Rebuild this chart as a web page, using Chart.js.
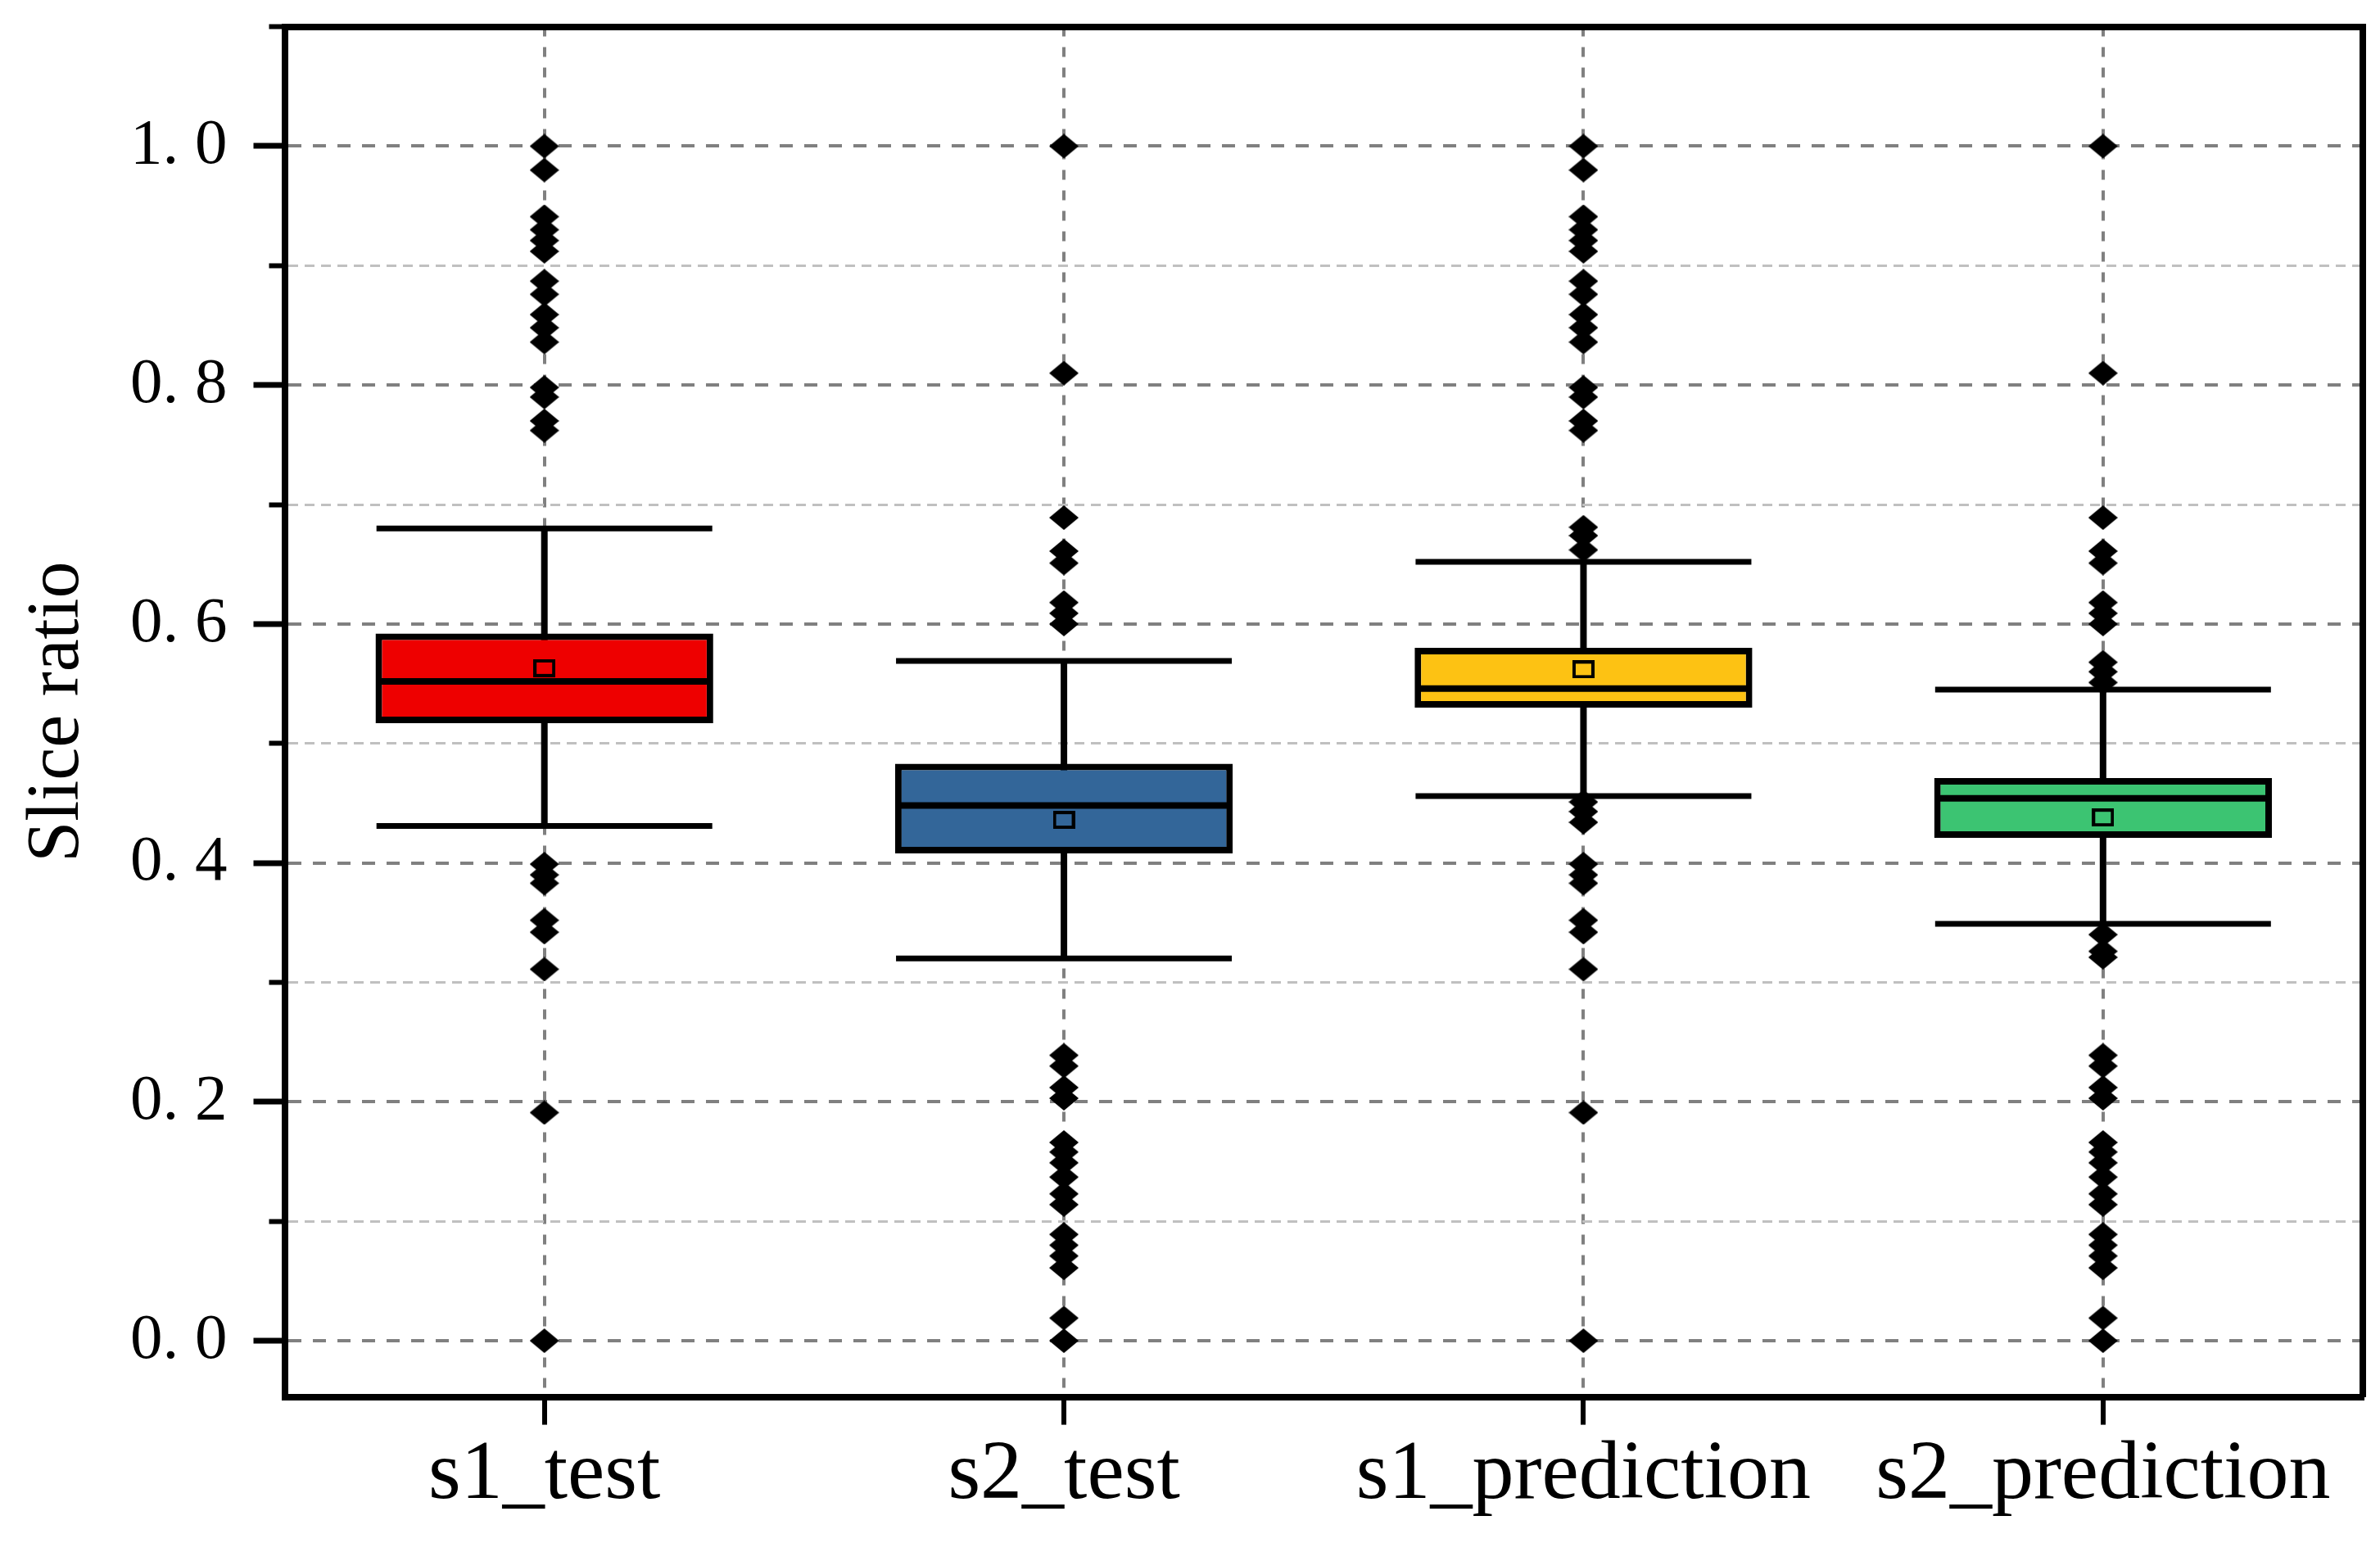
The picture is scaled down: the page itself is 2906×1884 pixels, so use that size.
<!DOCTYPE html>
<html>
<head>
<meta charset="utf-8">
<title>Slice ratio box plot</title>
<script src="https://cdn.jsdelivr.net/npm/chart.js@4.4.1/dist/chart.umd.min.js"></script>
<style>
  html, body { margin: 0; padding: 0; background: #fff; }
</style>
</head>
<body>
<canvas id="chart" width="2906" height="1884"></canvas>
<script>
// Box plot of slice ratios, drawn with plain Chart.js (bars + line datasets)

const categories = ['s1_test', 's2_test', 's1_prediction', 's2_prediction'];

// box statistics, one value per category
const q1 = [0.517, 0.408, 0.530, 0.421];
const q3 = [0.592, 0.483, 0.580, 0.471];
const medians = [0.552, 0.448, 0.546, 0.454];
const means = [0.563, 0.436, 0.562, 0.438];
const whiskerLow = [0.431, 0.320, 0.456, 0.349];
const whiskerHigh = [0.680, 0.569, 0.652, 0.545];

// fliers, one list per category
const s1TestOutliers = [1.0, 0.980, 0.941, 0.930, 0.921, 0.912, 0.887, 0.876, 0.859, 0.848, 0.836,
  0.798, 0.790, 0.770, 0.762, 0.399, 0.390, 0.383, 0.352, 0.342, 0.311, 0.191, 0.0];
const s2TestOutliers = [1.0, 0.810, 0.689, 0.661, 0.651, 0.618, 0.609, 0.600,
  0.239, 0.230, 0.212, 0.203, 0.166, 0.158, 0.149, 0.137, 0.123, 0.114,
  0.089, 0.080, 0.071, 0.061, 0.019, 0.0];
const s1PredOutliers = [1.0, 0.980, 0.941, 0.930, 0.921, 0.912, 0.887, 0.876, 0.859, 0.848, 0.836,
  0.798, 0.790, 0.770, 0.762, 0.681, 0.674, 0.662,
  0.451, 0.443, 0.434, 0.399, 0.390, 0.383, 0.352, 0.342, 0.311, 0.191, 0.0];
const s2PredOutliers = [1.0, 0.810, 0.689, 0.661, 0.651, 0.618, 0.609, 0.600, 0.568, 0.560, 0.551,
  0.340, 0.326, 0.321, 0.239, 0.230, 0.212, 0.203, 0.166, 0.158, 0.149, 0.137, 0.123, 0.114,
  0.089, 0.080, 0.071, 0.061, 0.019, 0.0];
const outliers = [s1TestOutliers, s2TestOutliers, s1PredOutliers, s2PredOutliers];

const yTickValues = [0, 0.2, 0.4, 0.6, 0.8, 1.0];

const boxColors = ['#ee0000', '#336699', '#fdc213', '#3cc472'];
const serif = '"Liberation Serif", "Times New Roman", serif';

// small canvases used as point styles
function marker(w, h, draw) {
    const c = document.createElement('canvas');
    c.width = w;
    c.height = h;
    draw(c.getContext('2d'), w, h);
    return c;
}
const diamond = marker(36, 30, (g, w, h) => {
    g.fillStyle = '#000';
    g.beginPath();
    g.moveTo(w / 2, 0);
    g.lineTo(w, h / 2);
    g.lineTo(w / 2, h);
    g.lineTo(0, h / 2);
    g.closePath();
    g.fill();
});
const meanSquare = marker(27, 22, (g, w, h) => {
    g.strokeStyle = '#000';
    g.lineWidth = 4;
    g.strokeRect(2, 2, w - 4, h - 4);
});

const at = vals => vals.map((v, i) => ({ x: categories[i], y: v }));
const majorValue = v => yTickValues.some(t => Math.abs(t - v) < 1e-6);
const isMajor = c => !!(c && c.tick) && majorValue(c.tick.value);

const whiskerSets = categories.map((c, i) => ({
    type: 'line',
    data: [{ x: c, y: whiskerLow[i] }, { x: c, y: whiskerHigh[i] }],
    borderColor: '#000',
    borderWidth: 8,
    pointRadius: 0,
    order: 6
}));

const datasets = whiskerSets.concat([
    {
        type: 'line',
        data: at(whiskerHigh).concat(at(whiskerLow)),
        showLine: false,
        pointStyle: 'line',
        pointRadius: 205,
        pointBorderWidth: 7,
        pointBorderColor: '#000',
        order: 5
    },
    {
        type: 'bar',
        data: q1.map((v, i) => [v, q3[i]]),
        backgroundColor: boxColors,
        borderColor: '#000',
        borderWidth: 8,
        borderSkipped: false,
        barPercentage: 0.65,
        categoryPercentage: 1,
        order: 4
    },
    {
        type: 'line',
        data: at(medians),
        showLine: false,
        pointStyle: 'line',
        pointRadius: 202,
        pointBorderWidth: 8,
        pointBorderColor: '#000',
        order: 3
    },
    {
        type: 'line',
        data: at(means),
        showLine: false,
        pointStyle: meanSquare,
        pointRadius: 10,
        order: 2
    },
    {
        type: 'line',
        data: outliers.flatMap((list, i) => list.map(v => ({ x: categories[i], y: v }))),
        showLine: false,
        pointStyle: diamond,
        pointRadius: 16,
        order: 1
    }
]);

new Chart(document.getElementById('chart'), {
    type: 'bar',
    data: { labels: categories, datasets: datasets },
    options: {
        responsive: false,
        animation: false,
        events: [],
        layout: { autoPadding: false, padding: { left: 4, right: 21, top: 16, bottom: 20 } },
        plugins: {
            legend: { display: false },
            tooltip: { enabled: false }
        },
        scales: {
            x: {
                type: 'category',
                offset: true,
                grid: {
                    offset: false,
                    color: '#808080',
                    lineWidth: 4,
                    tickLength: 34,
                    tickWidth: 6,
                    tickColor: '#000'
                },
                border: { color: '#000', width: 8, dash: [12, 13] },
                ticks: {
                    color: '#000',
                    font: { family: serif, size: 102 },
                    padding: 1,
                    maxRotation: 0,
                    autoSkip: false
                }
            },
            x2: {
                type: 'category',
                position: 'top',
                offset: true,
                grid: { display: false, drawTicks: false },
                ticks: { display: false },
                border: { color: '#000', width: 8 }
            },
            y: {
                min: -0.047,
                max: 1.1,
                ticks: {
                    stepSize: 0.1,
                    includeBounds: false,
                    autoSkip: false,
                    padding: 32,
                    color: '#000',
                    font: c => ({ family: serif, size: isMajor(c) ? 79 : 1 }),
                    callback: function (v) {
                        return majorValue(v) ? v.toFixed(1).replace('.', '. ') : '';
                    }
                },
                grid: {
                    color: c => isMajor(c) ? '#808080' : '#c0c0c0',
                    lineWidth: c => isMajor(c) ? 4 : 3,
                    tickLength: 38,
                    tickColor: '#000',
                    tickWidth: c => isMajor(c) ? 7 : 6,
                    tickBorderDash: c => isMajor(c) ? [] : [0, 19, 40, 0]
                },
                border: {
                    color: '#000',
                    width: 8,
                    dash: c => isMajor(c) ? [16, 14] : [12, 8]
                },
                title: {
                    display: true,
                    text: 'Slice ratio',
                    color: '#000',
                    font: { family: serif, size: 90 },
                    padding: { top: 13, bottom: 2 }
                }
            },
            y2: {
                position: 'right',
                min: -0.047,
                max: 1.1,
                grid: { display: false, drawTicks: false },
                ticks: { display: false },
                border: { color: '#000', width: 8 }
            }
        }
    }
});
</script>
</body>
</html>
